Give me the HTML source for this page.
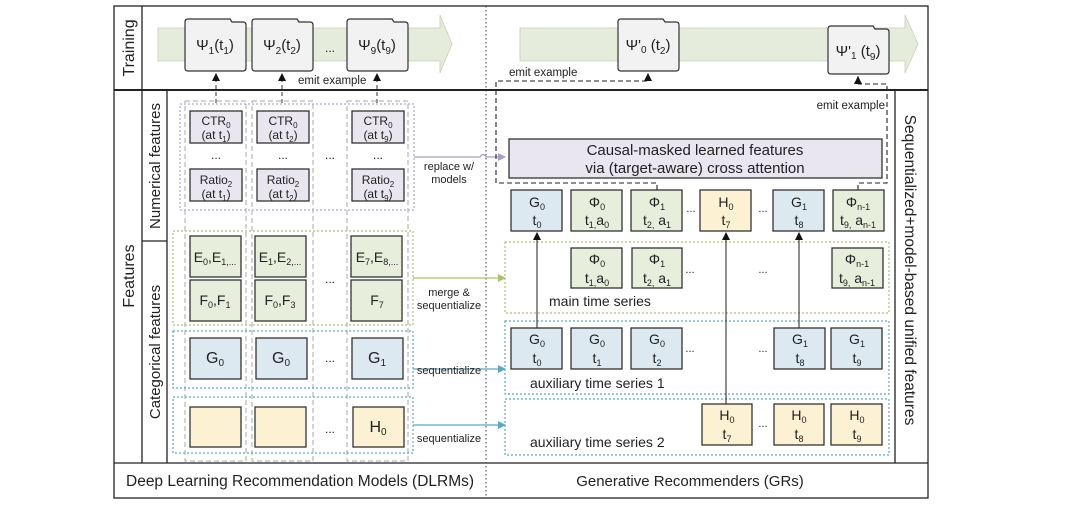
<!DOCTYPE html>
<html><head><meta charset="utf-8"><style>
body{margin:0;background:#fff}
svg{display:block}
text{font-family:"Liberation Sans",sans-serif;fill:#222}
</style></head><body>
<svg width="1080" height="509" viewBox="0 0 1080 509" xmlns="http://www.w3.org/2000/svg">
<defs>
<marker id="ak" markerWidth="8" markerHeight="8" refX="7" refY="4" orient="auto" markerUnits="userSpaceOnUse"><path d="M0,0 L8,4 L0,8 z" fill="#111"/></marker>
<marker id="ap" markerWidth="8" markerHeight="8" refX="7" refY="4" orient="auto" markerUnits="userSpaceOnUse"><path d="M0,0 L8,4 L0,8 z" fill="#a99bd0"/></marker>
<marker id="ag" markerWidth="8" markerHeight="8" refX="7" refY="4" orient="auto" markerUnits="userSpaceOnUse"><path d="M0,0 L8,4 L0,8 z" fill="#a8c46a"/></marker>
<marker id="ab" markerWidth="8" markerHeight="8" refX="7" refY="4" orient="auto" markerUnits="userSpaceOnUse"><path d="M0,0 L8,4 L0,8 z" fill="#5aa8c8"/></marker>
</defs>
<rect x="114" y="6" width="814" height="492" fill="#fff" stroke="#222" stroke-width="1.3"/>
<line x1="114" y1="90" x2="928" y2="90" stroke="#222" stroke-width="2"/>
<line x1="114" y1="463" x2="928" y2="463" stroke="#222" stroke-width="1.3"/>
<line x1="142" y1="6" x2="142" y2="463" stroke="#222" stroke-width="1.3"/>
<line x1="167" y1="90" x2="167" y2="463" stroke="#222" stroke-width="1.3"/>
<line x1="142" y1="241" x2="167" y2="241" stroke="#222" stroke-width="1.3"/>
<line x1="895" y1="90" x2="895" y2="463" stroke="#222" stroke-width="1.3"/>
<line x1="486" y1="6" x2="486" y2="498" stroke="#333" stroke-width="1" stroke-dasharray="1.5,2.5"/>
<text transform="translate(134,48) rotate(-90)" text-anchor="middle" font-size="16">Training</text>
<text transform="translate(134,276) rotate(-90)" text-anchor="middle" font-size="16">Features</text>
<text transform="translate(160,166) rotate(-90)" text-anchor="middle" font-size="15">Numerical features</text>
<text transform="translate(160,352) rotate(-90)" text-anchor="middle" font-size="15">Categorical features</text>
<text transform="translate(905,270) rotate(90)" text-anchor="middle" font-size="15.5">Sequentialized+model-based unified features</text>
<text x="126" y="486" font-size="15.5">Deep Learning Recommendation Models (DLRMs)</text>
<text x="690" y="486" text-anchor="middle" font-size="15">Generative Recommenders (GRs)</text>
<path d="M158,28 L440,28 L440,15 L452,44 L440,73 L440,61 L158,61 z" fill="#e6ecdc" stroke="#c5d0b4" stroke-width="0.8"/>
<path d="M520,28 L905,28 L905,15 L918,44 L905,73 L905,61 L520,61 z" fill="#e6ecdc" stroke="#c5d0b4" stroke-width="0.8"/>
<g stroke="#333" stroke-width="1.2" fill="#f2f2f2">
<path d="M185,22 Q185,19 188,19 L230,19 L232,22 L243,22 Q246,22 246,25 L246,68 Q246,71 243,71 L188,71 Q185,71 185,68 z"/>
<path d="M252,22 Q252,19 255,19 L297,19 L299,22 L310,22 Q313,22 313,25 L313,68 Q313,71 310,71 L255,71 Q252,71 252,68 z"/>
<path d="M347,22 Q347,19 350,19 L392,19 L394,22 L405,22 Q408,22 408,25 L408,68 Q408,71 405,71 L350,71 Q347,71 347,68 z"/>
<path d="M618,22 Q618,19 621,19 L663,19 L665,22 L676,22 Q679,22 679,25 L679,68 Q679,71 676,71 L621,71 Q618,71 618,68 z"/>
<path d="M828,29 Q828,26 831,26 L873,26 L875,29 L886,29 Q889,29 889,32 L889,71 Q889,74 886,74 L831,74 Q828,74 828,71 z"/>
</g>
<text x="215" y="50" text-anchor="middle" font-size="15">Ψ<tspan font-size="10" dy="4">1</tspan><tspan dy="-4">(t</tspan><tspan font-size="10" dy="4">1</tspan><tspan dy="-4">)</tspan></text>
<text x="282" y="50" text-anchor="middle" font-size="15">Ψ<tspan font-size="10" dy="4">2</tspan><tspan dy="-4">(t</tspan><tspan font-size="10" dy="4">2</tspan><tspan dy="-4">)</tspan></text>
<text x="377" y="50" text-anchor="middle" font-size="15">Ψ<tspan font-size="10" dy="4">9</tspan><tspan dy="-4">(t</tspan><tspan font-size="10" dy="4">9</tspan><tspan dy="-4">)</tspan></text>
<text x="330" y="52" text-anchor="middle" font-size="12">...</text>
<text x="648" y="50" text-anchor="middle" font-size="15">Ψ'<tspan font-size="10" dy="3">0</tspan><tspan dy="-3"> (t</tspan><tspan font-size="10" dy="4">2</tspan><tspan dy="-4">)</tspan></text>
<text x="858" y="56" text-anchor="middle" font-size="15">Ψ'<tspan font-size="10" dy="3">1</tspan><tspan dy="-3"> (t</tspan><tspan font-size="10" dy="4">9</tspan><tspan dy="-4">)</tspan></text>
<g stroke="#333" stroke-width="1" fill="none">
<path d="M216,103 L216,81" stroke-dasharray="4,3"/>
<path d="M282,103 L282,81" stroke-dasharray="4,3"/>
<path d="M377,103 L377,81" stroke-dasharray="4,3"/>
</g>
<path d="M212,81 L216,73 L220,81 z M278,81 L282,73 L286,81 z M373,81 L377,73 L381,81 z" fill="#111"/>
<text x="298" y="84" font-size="11.5">emit example</text>
<g stroke="#aaa" stroke-width="1" fill="none" stroke-dasharray="5,3">
<rect x="185" y="101" width="61" height="360"/>
<rect x="252" y="101" width="61" height="360"/>
<rect x="347" y="101" width="61" height="360"/>
</g>
<rect x="180" y="104" width="234" height="106" fill="none" stroke="#b3a3d8" stroke-width="1.2" stroke-dasharray="2,2"/>
<rect x="173" y="231" width="240" height="94" fill="none" stroke="#a8c46a" stroke-width="1.2" stroke-dasharray="2,2"/>
<rect x="173" y="331" width="240" height="57" fill="none" stroke="#5aa8c8" stroke-width="1.2" stroke-dasharray="2,2"/>
<rect x="173" y="397" width="240" height="56" fill="none" stroke="#5aa8c8" stroke-width="1.2" stroke-dasharray="2,2"/>
<g stroke="#333" stroke-width="1.3">
<rect x="190" y="111" width="52" height="32" fill="#e9e6f0"/><rect x="257" y="111" width="52" height="32" fill="#e9e6f0"/><rect x="352" y="111" width="52" height="32" fill="#e9e6f0"/>
<rect x="190" y="169" width="52" height="32" fill="#e9e6f0"/><rect x="257" y="169" width="52" height="32" fill="#e9e6f0"/><rect x="352" y="169" width="52" height="32" fill="#e9e6f0"/>
<rect x="190" y="236" width="51" height="41" fill="#e8eedc"/><rect x="255" y="236" width="51" height="41" fill="#e8eedc"/><rect x="351" y="236" width="51" height="41" fill="#e8eedc"/>
<rect x="190" y="280" width="51" height="41" fill="#e8eedc"/><rect x="255" y="280" width="51" height="41" fill="#e8eedc"/><rect x="351" y="280" width="51" height="41" fill="#e8eedc"/>
<rect x="190" y="338" width="51" height="41" fill="#dde9f0"/><rect x="256" y="338" width="51" height="41" fill="#dde9f0"/><rect x="352" y="338" width="51" height="41" fill="#dde9f0"/>
<rect x="190" y="407" width="51" height="40" fill="#fcf1d2"/><rect x="255" y="407" width="51" height="40" fill="#fcf1d2"/><rect x="353" y="407" width="51" height="40" fill="#fcf1d2"/>
</g>
<g font-size="12" text-anchor="middle">
<text x="216" y="125">CTR<tspan font-size="8" dy="3">0</tspan></text><text x="216" y="139">(at t<tspan font-size="8" dy="3">1</tspan><tspan dy="-3">)</tspan></text>
<text x="283" y="125">CTR<tspan font-size="8" dy="3">0</tspan></text><text x="283" y="139">(at t<tspan font-size="8" dy="3">2</tspan><tspan dy="-3">)</tspan></text>
<text x="378" y="125">CTR<tspan font-size="8" dy="3">0</tspan></text><text x="378" y="139">(at t<tspan font-size="8" dy="3">9</tspan><tspan dy="-3">)</tspan></text>
<text x="216" y="184">Ratio<tspan font-size="8" dy="3">2</tspan></text><text x="216" y="198">(at t<tspan font-size="8" dy="3">1</tspan><tspan dy="-3">)</tspan></text>
<text x="283" y="184">Ratio<tspan font-size="8" dy="3">2</tspan></text><text x="283" y="198">(at t<tspan font-size="8" dy="3">2</tspan><tspan dy="-3">)</tspan></text>
<text x="378" y="184">Ratio<tspan font-size="8" dy="3">2</tspan></text><text x="378" y="198">(at t<tspan font-size="8" dy="3">9</tspan><tspan dy="-3">)</tspan></text>
<text x="216" y="159">...</text><text x="283" y="159">...</text><text x="378" y="159">...</text><text x="330" y="159">...</text>
</g>
<g font-size="14" text-anchor="middle">
<text x="215" y="262">E<tspan font-size="9" dy="3">0</tspan><tspan dy="-3">,E</tspan><tspan font-size="9" dy="3">1,...</tspan></text>
<text x="280" y="262">E<tspan font-size="9" dy="3">1</tspan><tspan dy="-3">,E</tspan><tspan font-size="9" dy="3">2,...</tspan></text>
<text x="377" y="262">E<tspan font-size="9" dy="3">7</tspan><tspan dy="-3">,E</tspan><tspan font-size="9" dy="3">8,...</tspan></text>
<text x="215" y="305">F<tspan font-size="9" dy="3">0</tspan><tspan dy="-3">,F</tspan><tspan font-size="9" dy="3">1</tspan></text>
<text x="280" y="305">F<tspan font-size="9" dy="3">0</tspan><tspan dy="-3">,F</tspan><tspan font-size="9" dy="3">3</tspan></text>
<text x="377" y="305">F<tspan font-size="9" dy="3">7</tspan></text>
<text x="215" y="363" font-size="16">G<tspan font-size="10" dy="3">0</tspan></text>
<text x="281" y="363" font-size="16">G<tspan font-size="10" dy="3">0</tspan></text>
<text x="377" y="363" font-size="16">G<tspan font-size="10" dy="3">1</tspan></text>
<text x="378" y="432" font-size="16">H<tspan font-size="10" dy="3">0</tspan></text>
<text x="330" y="283" font-size="12">...</text><text x="330" y="362" font-size="12">...</text><text x="330" y="433" font-size="12">...</text>
</g>
<path d="M414,157 L480,157 Q483,152 486,157 L505,157" fill="none" stroke="#a99bd0" stroke-width="1.3" marker-end="url(#ap)"/>
<line x1="413" y1="278" x2="505" y2="278" stroke="#a8c46a" stroke-width="1.3" marker-end="url(#ag)"/>
<line x1="413" y1="369" x2="505" y2="369" stroke="#5aa8c8" stroke-width="1.3" marker-end="url(#ab)"/>
<line x1="413" y1="425" x2="505" y2="425" stroke="#5aa8c8" stroke-width="1.3" marker-end="url(#ab)"/>
<g font-size="11" text-anchor="middle">
<text x="449" y="170">replace w/</text><text x="449" y="183">models</text>
<text x="449" y="296">merge &amp;</text><text x="449" y="309">sequentialize</text>
<text x="449" y="374">sequentialize</text>
<text x="449" y="442">sequentialize</text>
</g>
<g stroke="#222" stroke-width="1.1" fill="none" stroke-dasharray="5,3">
<path d="M657,190 L657,183 L496,183 L496,81 L648,81"/>
<path d="M858,190 L858,183 L887,183 L887,84 L858,84"/>
</g>
<line x1="648" y1="81" x2="648" y2="74" stroke="#222" stroke-width="1"/>
<line x1="858" y1="84" x2="858" y2="76" stroke="#222" stroke-width="1"/>
<path d="M644,81 L648,73 L652,81 z M854,84 L858,76 L862,84 z" fill="#111"/>
<text x="509" y="76" font-size="11.5">emit example</text>
<text x="885" y="109" font-size="11.5" text-anchor="end">emit example</text>
<rect x="509" y="139" width="373" height="39" fill="#e9e6f0" stroke="#333" stroke-width="1.3"/>
<text x="695" y="155" font-size="15" text-anchor="middle">Causal-masked learned features</text>
<text x="695" y="173" font-size="15" text-anchor="middle">via (target-aware) cross attention</text>
<rect x="505" y="242" width="384" height="71" fill="none" stroke="#a8c46a" stroke-width="1.2" stroke-dasharray="2,2"/>
<rect x="505" y="321" width="384" height="73" fill="none" stroke="#5aa8c8" stroke-width="1.2" stroke-dasharray="2,2"/>
<rect x="505" y="399" width="384" height="56" fill="none" stroke="#5aa8c8" stroke-width="1.2" stroke-dasharray="2,2"/>
<g stroke="#333" stroke-width="1.3">
<rect x="511" y="190" width="51" height="41" fill="#dde9f0"/>
<rect x="571" y="190" width="51" height="41" fill="#e8eedc"/>
<rect x="631" y="190" width="51" height="41" fill="#e8eedc"/>
<rect x="700" y="190" width="51" height="41" fill="#fcf1d2"/>
<rect x="773" y="190" width="51" height="41" fill="#dde9f0"/>
<rect x="833" y="190" width="51" height="41" fill="#e8eedc"/>
<rect x="571" y="248" width="51" height="40" fill="#e8eedc"/>
<rect x="632" y="248" width="50" height="40" fill="#e8eedc"/>
<rect x="832" y="248" width="51" height="40" fill="#e8eedc"/>
<rect x="511" y="328" width="51" height="41" fill="#dde9f0"/>
<rect x="571" y="328" width="51" height="41" fill="#dde9f0"/>
<rect x="631" y="328" width="51" height="41" fill="#dde9f0"/>
<rect x="774" y="328" width="51" height="41" fill="#dde9f0"/>
<rect x="831" y="328" width="51" height="41" fill="#dde9f0"/>
<rect x="702" y="404" width="50" height="41" fill="#fcf1d2"/>
<rect x="774" y="404" width="50" height="41" fill="#fcf1d2"/>
<rect x="831" y="404" width="51" height="41" fill="#fcf1d2"/>
</g>
<g font-size="14" text-anchor="middle">
<text x="537" y="207">G<tspan font-size="9" dy="3">0</tspan></text><text x="537" y="225">t<tspan font-size="9" dy="3">0</tspan></text>
<text x="597" y="207">Φ<tspan font-size="9" dy="3">0</tspan></text><text x="597" y="225">t<tspan font-size="9" dy="3">1,</tspan><tspan dy="-3">a</tspan><tspan font-size="9" dy="3">0</tspan></text>
<text x="657" y="207">Φ<tspan font-size="9" dy="3">1</tspan></text><text x="657" y="225">t<tspan font-size="9" dy="3">2,</tspan><tspan dy="-3"> a</tspan><tspan font-size="9" dy="3">1</tspan></text>
<text x="726" y="207">H<tspan font-size="9" dy="3">0</tspan></text><text x="726" y="225">t<tspan font-size="9" dy="3">7</tspan></text>
<text x="799" y="207">G<tspan font-size="9" dy="3">1</tspan></text><text x="799" y="225">t<tspan font-size="9" dy="3">8</tspan></text>
<text x="858" y="207">Φ<tspan font-size="9" dy="3">n-1</tspan></text><text x="858" y="225">t<tspan font-size="9" dy="3">9,</tspan><tspan dy="-3"> a</tspan><tspan font-size="9" dy="3">n-1</tspan></text>
<text x="597" y="264">Φ<tspan font-size="9" dy="3">0</tspan></text><text x="597" y="283">t<tspan font-size="9" dy="3">1,</tspan><tspan dy="-3">a</tspan><tspan font-size="9" dy="3">0</tspan></text>
<text x="657" y="264">Φ<tspan font-size="9" dy="3">1</tspan></text><text x="657" y="283">t<tspan font-size="9" dy="3">2,</tspan><tspan dy="-3"> a</tspan><tspan font-size="9" dy="3">1</tspan></text>
<text x="857" y="264">Φ<tspan font-size="9" dy="3">n-1</tspan></text><text x="857" y="283">t<tspan font-size="9" dy="3">9,</tspan><tspan dy="-3"> a</tspan><tspan font-size="9" dy="3">n-1</tspan></text>
<text x="537" y="344">G<tspan font-size="9" dy="3">0</tspan></text><text x="537" y="363">t<tspan font-size="9" dy="3">0</tspan></text>
<text x="597" y="344">G<tspan font-size="9" dy="3">0</tspan></text><text x="597" y="363">t<tspan font-size="9" dy="3">1</tspan></text>
<text x="657" y="344">G<tspan font-size="9" dy="3">0</tspan></text><text x="657" y="363">t<tspan font-size="9" dy="3">2</tspan></text>
<text x="800" y="344">G<tspan font-size="9" dy="3">1</tspan></text><text x="800" y="363">t<tspan font-size="9" dy="3">8</tspan></text>
<text x="857" y="344">G<tspan font-size="9" dy="3">1</tspan></text><text x="857" y="363">t<tspan font-size="9" dy="3">9</tspan></text>
<text x="727" y="420">H<tspan font-size="9" dy="3">0</tspan></text><text x="727" y="439">t<tspan font-size="9" dy="3">7</tspan></text>
<text x="799" y="420">H<tspan font-size="9" dy="3">0</tspan></text><text x="799" y="439">t<tspan font-size="9" dy="3">8</tspan></text>
<text x="857" y="420">H<tspan font-size="9" dy="3">0</tspan></text><text x="857" y="439">t<tspan font-size="9" dy="3">9</tspan></text>
</g>
<g font-size="11" text-anchor="middle">
<text x="691" y="212">...</text><text x="763" y="212">...</text>
<text x="690" y="273">...</text><text x="763" y="273">...</text>
<text x="690" y="352">...</text><text x="763" y="352">...</text>
<text x="763" y="427">...</text>
</g>
<text x="549" y="306" font-size="14">main time series</text>
<text x="530" y="388" font-size="14">auxiliary time series 1</text>
<text x="530" y="447" font-size="14">auxiliary time series 2</text>
<g stroke="#333" stroke-width="1.1">
<line x1="537" y1="328" x2="537" y2="233" marker-end="url(#ak)"/>
<line x1="726" y1="404" x2="726" y2="233" marker-end="url(#ak)"/>
<line x1="799" y1="328" x2="799" y2="233" marker-end="url(#ak)"/>
</g>
</svg>
</body></html>
